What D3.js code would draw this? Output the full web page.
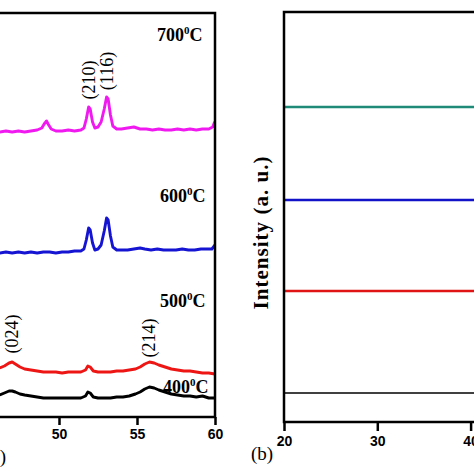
<!DOCTYPE html>
<html>
<head>
<meta charset="utf-8">
<script src="https://cdn.jsdelivr.net/npm/d3@7"></script>
<style>
  body { margin: 0; background: #fff; }
  svg { display: block; }
</style>
</head>
<body>
<div id="chart"></div>
<script>
// panel (a): XRD patterns, [2theta, intensity a.u.]
let trace700 = [[46.2, 285], [46.6, 286], [47.0, 285], [47.4, 286], [47.8, 285], [48.2, 286], [48.6, 287], [48.9, 289], [49.05, 293], [49.2, 296], [49.3, 293], [49.5, 288], [49.8, 286], [50.2, 286], [50.6, 287], [51.0, 286], [51.4, 287], [51.6, 289], [51.75, 298], [51.9, 310], [52.0, 308], [52.15, 295], [52.3, 289], [52.5, 290], [52.7, 295], [52.9, 308], [53.05, 320], [53.15, 318], [53.3, 302], [53.45, 291], [53.7, 288], [54.0, 288], [54.4, 289], [54.8, 290], [55.2, 288], [55.6, 288], [56.0, 287], [56.4, 288], [56.8, 287], [57.2, 287], [57.6, 288], [58.0, 287], [58.4, 288], [58.8, 287], [59.2, 288], [59.6, 288], [59.85, 290], [59.95, 294], [60, 295]]
let trace600 = [[46.2, 164], [46.6, 165], [47.0, 164], [47.4, 165], [47.8, 164], [48.2, 165], [48.6, 164], [49.0, 165], [49.4, 165], [49.8, 164], [50.2, 165], [50.6, 165], [51.0, 166], [51.4, 166], [51.6, 168], [51.75, 177], [51.9, 189], [52.0, 187], [52.15, 174], [52.3, 167], [52.5, 168], [52.7, 172], [52.9, 186], [53.05, 199], [53.15, 197], [53.3, 181], [53.45, 170], [53.7, 167], [54.0, 167], [54.4, 167], [54.8, 168], [55.2, 169], [55.5, 168], [55.9, 167], [56.3, 168], [56.7, 167], [57.1, 167], [57.5, 167], [57.9, 168], [58.3, 167], [58.7, 167], [59.1, 168], [59.5, 168], [59.8, 168], [59.95, 171], [60, 172]]
let trace500 = [[46.2, 49], [46.5, 51], [46.8, 54], [47.0, 55], [47.2, 53], [47.5, 50], [47.8, 48], [48.2, 47], [48.6, 46], [49.0, 45], [49.4, 45], [49.8, 45], [50.2, 44], [50.6, 45], [51.0, 45], [51.4, 45], [51.7, 47], [51.85, 51], [52.0, 50], [52.2, 46], [52.5, 45], [52.9, 45], [53.3, 45], [53.7, 46], [54.1, 46], [54.5, 47], [54.9, 48], [55.2, 50], [55.5, 53], [55.8, 55], [56.1, 54], [56.4, 52], [56.8, 50], [57.2, 48], [57.6, 47], [58.0, 46], [58.4, 46], [58.8, 45], [59.2, 44], [59.6, 44], [60, 43]]
let trace400 = [[46.2, 22], [46.5, 24], [46.8, 26], [47.0, 26], [47.2, 25], [47.5, 23], [47.8, 22], [48.2, 21], [48.6, 20], [49.0, 19], [49.4, 19], [49.8, 19], [50.2, 19], [50.6, 19], [51.0, 19], [51.4, 19], [51.7, 21], [51.85, 25], [52.0, 24], [52.2, 20], [52.5, 19], [52.9, 19], [53.3, 19], [53.7, 20], [54.1, 20], [54.5, 21], [54.9, 23], [55.2, 25], [55.5, 28], [55.8, 30], [56.1, 29], [56.4, 27], [56.8, 25], [57.2, 23], [57.6, 22], [58.0, 21], [58.4, 21], [58.8, 20], [59.2, 21], [59.6, 19], [60, 19]]

let seriesA = [
  { name: '700', data: trace700, color: '#f01af0' },
  { name: '600', data: trace600, color: '#1414d2' },
  { name: '500', data: trace500, color: '#ee1515' },
  { name: '400', data: trace400, color: '#000000' }
]
let tempLabels = [
  { temp: '700', x: 157, y: 41 },
  { temp: '600', x: 160, y: 202 },
  { temp: '500', x: 160, y: 307 },
  { temp: '400', x: 163, y: 393 }
]
// [label, 2theta, intensity of label centre]
let peakLabels = [['(210)', 51.9, 337], ['(116)', 53.1, 346], ['(024)', 47.0, 83], ['(214)', 55.8, 79]]
let ticksA = [50, 55, 60]

// panel (b): flat lines, [name, intensity]
let levelsB = [['teal', 315], ['blue', 222], ['red', 131], ['black', 29]]
let colorsB = { teal: '#1f8a78', blue: '#1212c8', red: '#e01414', black: '#000000' }
let widthsB = { teal: 2.5, blue: 2.5, red: 2.5, black: 1.5 }
let ticksB = [20, 30, 40]

let width = 474
let height = 474

let svg = d3
  .select('#chart')
  .append('svg')
  .attr('width', width)
  .attr('height', height)

let serif = 'Liberation Serif, Times New Roman, serif'
let sans = 'Liberation Sans, Arial, sans-serif'

// ---- panel (a)
let xA = d3.scaleLinear().domain([20, 60]).range([215 - 40 * 15.6, 215])
let yA = d3.scaleLinear().domain([0, 404]).range([417, 13])

svg
  .append('clipPath')
  .attr('id', 'clip-a')
  .append('rect')
  .attr('x', xA(20))
  .attr('y', yA(404))
  .attr('width', xA(60) - xA(20))
  .attr('height', yA(0) - yA(404))

let lineA = d3
  .line()
  .x(d => xA(d[0]))
  .y(d => yA(d[1]))

svg
  .append('g')
  .attr('clip-path', 'url(#clip-a)')
  .selectAll('.trace')
  .data(seriesA)
  .enter()
  .append('path')
  .attr('class', 'trace')
  .attr('d', d => lineA(d.data))
  .attr('fill', 'none')
  .attr('stroke', d => d.color)
  .attr('stroke-width', 2.9)
  .attr('stroke-linejoin', 'round')

// frame
svg
  .append('rect')
  .attr('x', xA(20))
  .attr('y', yA(404))
  .attr('width', xA(60) - xA(20))
  .attr('height', yA(0) - yA(404))
  .attr('fill', 'none')
  .attr('stroke', 'black')
  .attr('stroke-width', 2.5)

let axisA = svg
  .append('g')
  .attr('transform', `translate(0,${yA(0)})`)
  .call(
    d3
      .axisBottom(xA)
      .tickValues(ticksA)
      .tickSize(8)
      .tickPadding(4)
  )
axisA.select('.domain').remove()
axisA.selectAll('line').attr('stroke-width', 2.5)
axisA
  .selectAll('text')
  .attr('font-family', sans)
  .attr('font-weight', 'bold')
  .attr('font-size', 14)
  .attr('fill', 'black')

// temperature labels
let tl = svg
  .selectAll('.temp-label')
  .data(tempLabels)
  .enter()
  .append('text')
  .attr('class', 'temp-label')
  .attr('x', d => d.x)
  .attr('y', d => d.y)
  .attr('font-family', serif)
  .attr('font-weight', 'bold')
  .attr('font-size', 18)
tl.append('tspan').text(d => d.temp)
tl
  .append('tspan')
  .text('0')
  .attr('font-size', 11)
  .attr('dy', -7)
tl
  .append('tspan')
  .text('C')
  .attr('dy', 7)

// peak index labels
svg
  .selectAll('.peak-label')
  .data(peakLabels)
  .enter()
  .append('text')
  .attr('class', 'peak-label')
  .text(d => d[0])
  .attr('font-family', serif)
  .attr('font-size', 18)
  .attr('text-anchor', 'middle')
  .attr('transform', d => `translate(${xA(d[1]) + 6},${yA(d[2])}) rotate(-90)`)

svg
  .append('text')
  .text('(a)')
  .attr('x', 6)
  .attr('y', 463)
  .attr('text-anchor', 'end')
  .attr('font-family', serif)
  .attr('font-size', 19)

// ---- panel (b)
let xB = d3.scaleLinear().domain([20, 80]).range([284, 284 + 60 * 9.33])
let yB = d3.scaleLinear().domain([0, 410]).range([422, 12])

svg
  .selectAll('.level')
  .data(levelsB)
  .enter()
  .append('line')
  .attr('class', 'level')
  .attr('x1', xB(20))
  .attr('x2', xB(80))
  .attr('y1', d => yB(d[1]))
  .attr('y2', d => yB(d[1]))
  .attr('stroke', d => colorsB[d[0]])
  .attr('stroke-width', d => widthsB[d[0]])

svg
  .append('rect')
  .attr('x', xB(20))
  .attr('y', yB(410))
  .attr('width', xB(80) - xB(20))
  .attr('height', yB(0) - yB(410))
  .attr('fill', 'none')
  .attr('stroke', 'black')
  .attr('stroke-width', 2.5)

let axisB = svg
  .append('g')
  .attr('transform', `translate(0,${yB(0)})`)
  .call(
    d3
      .axisBottom(xB)
      .tickValues(ticksB)
      .tickSize(9)
      .tickPadding(5)
  )
axisB.select('.domain').remove()
axisB.selectAll('line').attr('stroke-width', 2.5)
axisB
  .selectAll('text')
  .attr('font-family', sans)
  .attr('font-weight', 'bold')
  .attr('font-size', 14)
  .attr('fill', 'black')

svg
  .append('text')
  .text('Intensity (a. u.)')
  .attr('font-family', serif)
  .attr('font-weight', 'bold')
  .attr('font-size', 21)
  .attr('text-anchor', 'middle')
  .attr('textLength', 153)
  .attr('lengthAdjust', 'spacing')
  .attr('transform', 'translate(268,233) rotate(-90)')

svg
  .append('text')
  .text('(b)')
  .attr('x', 251)
  .attr('y', 460)
  .attr('font-family', serif)
  .attr('font-size', 19)
</script>
</body>
</html>
